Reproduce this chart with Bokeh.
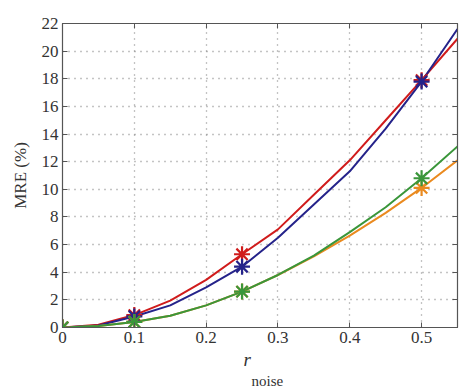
from bokeh.plotting import figure
from bokeh.models import LinearAxis, Title, Range1d, FixedTicker
from bokeh.embed import file_html
from bokeh.resources import INLINE

# data
r_noise = [0, 0.05, 0.1, 0.15, 0.2, 0.25, 0.3, 0.35, 0.4, 0.45, 0.5, 0.55]
red_vals = [0, 0.2, 0.9, 1.95, 3.45, 5.3, 7.1, 9.6, 12.1, 15.0, 17.9, 20.9]
blue_vals = [0, 0.15, 0.8, 1.6, 2.9, 4.4, 6.5, 8.9, 11.3, 14.4, 17.8, 21.6]
orange_vals = [0, 0.1, 0.4, 0.85, 1.6, 2.6, 3.8, 5.15, 6.65, 8.3, 10.1, 12.1]
green_vals = [0, 0.1, 0.4, 0.85, 1.6, 2.6, 3.8, 5.2, 6.9, 8.7, 10.8, 13.1]
marker_x = [0, 0.1, 0.25, 0.5]
x_ticks = [0, 0.1, 0.2, 0.3, 0.4, 0.5]
y_ticks = [0, 2, 4, 6, 8, 10, 12, 14, 16, 18, 20, 22]

FONT = "Liberation Serif"

p = figure(output_backend="svg", toolbar_location=None,
           frame_width=395, frame_height=304,
           min_border_left=62, min_border_right=12, min_border_top=23, min_border_bottom=58,
           x_range=Range1d(0, 0.55), y_range=Range1d(0, 22),
           x_axis_label=None, y_axis_label="MRE (%)")
p.background_fill_color = "white"
p.border_fill_color = "white"
p.outline_line_color = "#555555"
p.outline_line_width = 1.2

for ax in [p.xaxis[0], p.yaxis[0]]:
    ax.major_tick_in = 5
    ax.major_tick_out = 0
    ax.minor_tick_in = 0
    ax.minor_tick_out = 0
    ax.axis_line_color = "#555555"
    ax.major_tick_line_color = "#555555"
    ax.major_label_text_font = FONT
    ax.major_label_text_font_size = "17px"
    ax.major_label_text_color = "#333333"
    ax.axis_label_text_font = FONT
    ax.axis_label_text_font_style = "normal"
    ax.axis_label_text_font_size = "17px"
    ax.axis_label_text_color = "#333333"
p.xaxis[0].ticker = FixedTicker(ticks=x_ticks)
p.yaxis[0].ticker = FixedTicker(ticks=y_ticks)
p.xaxis[0].major_label_overrides = {0: "0"}
p.xaxis[0].major_label_standoff = 4
p.yaxis[0].major_label_standoff = 4
p.yaxis[0].axis_label_standoff = 9

top = LinearAxis(ticker=FixedTicker(ticks=x_ticks),
                 major_label_overrides={t: "" for t in x_ticks},
                 major_tick_in=5, major_tick_out=0, minor_tick_in=0, minor_tick_out=0,
                 axis_line_color="#555555", major_tick_line_color="#555555",
                 major_label_standoff=0)
right = LinearAxis(ticker=FixedTicker(ticks=y_ticks),
                   major_label_overrides={t: "" for t in y_ticks},
                   major_tick_in=5, major_tick_out=0, minor_tick_in=0, minor_tick_out=0,
                   axis_line_color="#555555", major_tick_line_color="#555555",
                   major_label_standoff=0)
p.add_layout(top, "above")
p.add_layout(right, "right")

p.xgrid.ticker = FixedTicker(ticks=x_ticks)
p.ygrid.ticker = FixedTicker(ticks=y_ticks)
for g in [p.xgrid[0], p.ygrid[0]]:
    g.grid_line_color = "#888888"
    g.grid_line_dash = "1 5"
    g.grid_line_width = 1.3

series = [
    (red_vals, "#d01c1c"),
    (blue_vals, "#25238a"),
    (orange_vals, "#ea8a1f"),
    (green_vals, "#3a963a"),
]
for vals, col in series:
    p.line(r_noise, vals, line_color=col, line_width=2)
for vals, col in series:
    my = [vals[r_noise.index(x)] for x in marker_x]
    p.scatter(marker_x, my, marker="asterisk", size=16, line_color=col, line_width=2.2)

t_r = Title(text="r", align="left", offset=181, standoff=2,
            text_font=FONT, text_font_style="italic", text_font_size="19px",
            text_color="#333333")
t_n = Title(text="noise", align="left", offset=189, standoff=0,
            text_font=FONT, text_font_style="normal", text_font_size="15px",
            text_color="#333333")
p.add_layout(t_r, "below")
p.add_layout(t_n, "below")

open("out.html", "w").write(file_html(p, INLINE))
